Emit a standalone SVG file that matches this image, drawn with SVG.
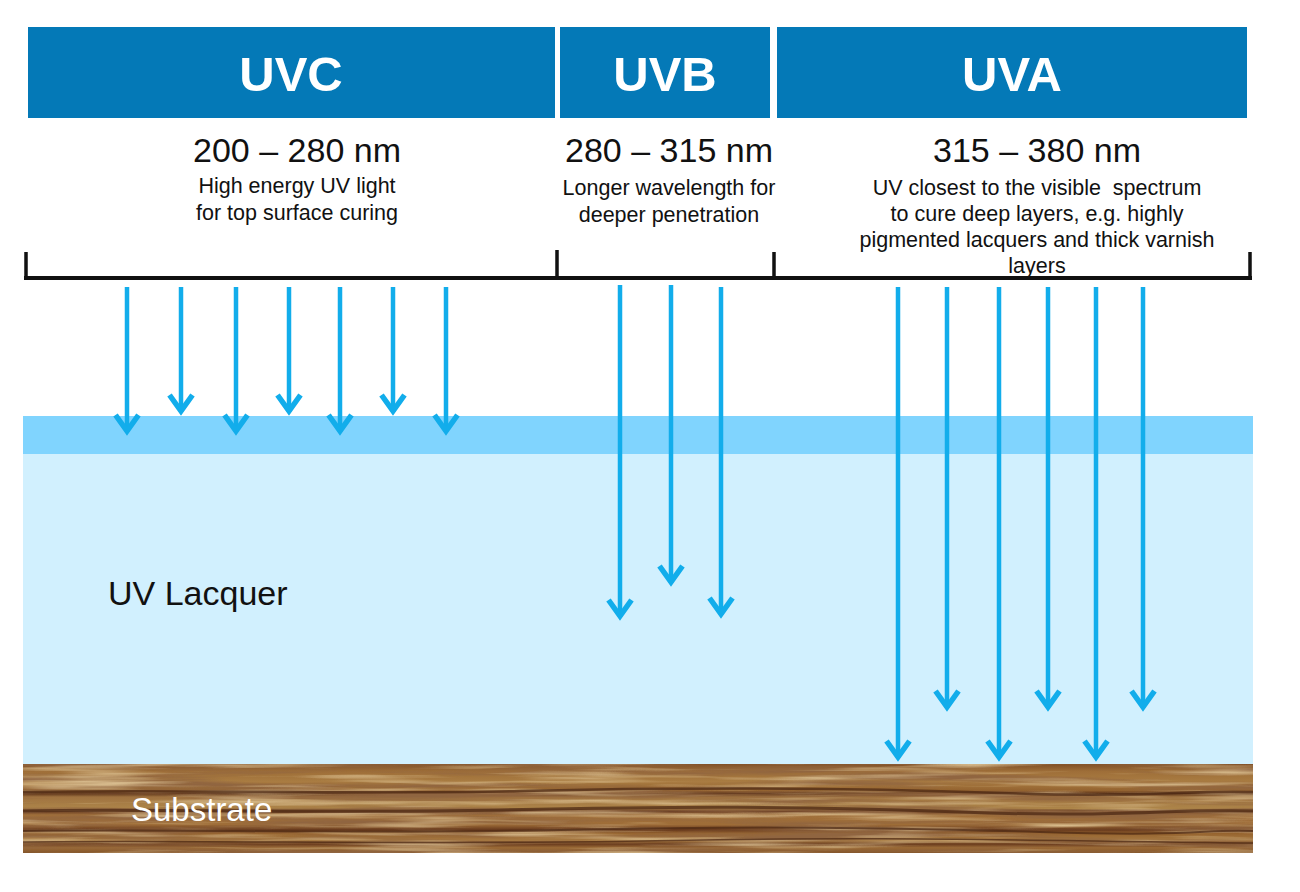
<svg xmlns="http://www.w3.org/2000/svg" width="1300" height="892" viewBox="0 0 1300 892">
  <style>
    .hdr { fill: #0479B7; }
    .hdrtxt { font-family: "Liberation Sans", Arial, sans-serif; font-weight: bold; font-size: 49px; fill: #ffffff; text-anchor: middle; }
    .range { font-family: "Liberation Sans", Arial, sans-serif; font-size: 34px; fill: #111111; text-anchor: middle; }
    .desc { font-family: "Liberation Sans", Arial, sans-serif; font-size: 21.5px; fill: #111111; text-anchor: middle; }
    .label { font-family: "Liberation Sans", Arial, sans-serif; font-size: 34px; fill: #111111; }
    .sublabel { font-family: "Liberation Sans", Arial, sans-serif; font-size: 33px; fill: #ffffff; }
    .bracket { stroke: #111111; fill: none; }
    .ray { stroke: #12ADEB; stroke-width: 4.5; fill: none; marker-end: url(#chev); }
    .vein { fill: none; stroke: #4E2A14; stroke-opacity: 0.75; }
  </style>
  <defs>
    <marker id="chev" markerUnits="userSpaceOnUse" viewBox="-22 -15 26 30" refX="0" refY="0" markerWidth="26" markerHeight="30" orient="auto" overflow="visible">
      <path d="M-17,-11.5 L-1,0 L-17,11.5" fill="none" stroke="#12ADEB" stroke-width="5.5" stroke-linejoin="miter"/>
    </marker>
    <linearGradient id="woodBands" x1="0" y1="0" x2="0" y2="1">
      <stop offset="0" stop-color="#7E4E26"/>
      <stop offset="0.08" stop-color="#9E6E38"/>
      <stop offset="0.2" stop-color="#A97C42"/>
      <stop offset="0.3" stop-color="#93622F"/>
      <stop offset="0.33" stop-color="#5A3118"/>
      <stop offset="0.37" stop-color="#9F7240"/>
      <stop offset="0.5" stop-color="#AD8549"/>
      <stop offset="0.53" stop-color="#5E321C"/>
      <stop offset="0.57" stop-color="#A06F3A"/>
      <stop offset="0.68" stop-color="#9E6D38"/>
      <stop offset="0.74" stop-color="#66381C"/>
      <stop offset="0.78" stop-color="#96642F"/>
      <stop offset="0.86" stop-color="#A67942"/>
      <stop offset="0.9" stop-color="#6A3C1E"/>
      <stop offset="0.94" stop-color="#9A6A36"/>
      <stop offset="1" stop-color="#84552B"/>
    </linearGradient>
    <filter id="grainDark" x="0" y="0" width="100%" height="100%">
      <feTurbulence type="fractalNoise" baseFrequency="0.004 0.12" numOctaves="4" seed="7"/>
      <feColorMatrix type="matrix" values="0 0 0 0 0.28  0 0 0 0 0.13  0 0 0 0 0.05  3 0 0 0 -1.2"/>
      <feComposite in2="SourceGraphic" operator="in"/>
    </filter>
    <filter id="grainLight" x="0" y="0" width="100%" height="100%">
      <feTurbulence type="fractalNoise" baseFrequency="0.006 0.16" numOctaves="3" seed="21"/>
      <feColorMatrix type="matrix" values="0 0 0 0 0.76  0 0 0 0 0.58  0 0 0 0 0.32  0 2.2 0 0 -1.05"/>
      <feComposite in2="SourceGraphic" operator="in"/>
    </filter>
  </defs>

  <rect width="1300" height="892" fill="#ffffff"/>

  <!-- Layers -->
  <g id="lacquer">
    <rect x="23" y="454" width="1230" height="310" fill="#D1F0FE"/>
    <text class="label" x="108" y="605">UV Lacquer</text>
  </g>
  <g id="top-surface">
    <rect x="23" y="416" width="1230" height="38" fill="#80D4FE"/>
  </g>
  <g id="substrate">
    <rect x="23" y="764" width="1230" height="89" fill="url(#woodBands)"/>
    <rect x="23" y="764" width="1230" height="89" fill="#000" filter="url(#grainDark)"/>
    <rect x="23" y="764" width="1230" height="89" fill="#000" filter="url(#grainLight)"/>
    <path class="vein" stroke-width="2.5" d="M23,792 C200,789 350,795 520,791 S850,788 1000,793 S1180,790 1253,792"/>
    <path class="vein" stroke-width="3" d="M23,811 C150,808 320,814 500,810 S800,806 960,812 S1160,809 1253,811"/>
    <path class="vein" stroke-width="2" d="M23,831 C180,829 360,834 560,830 S880,827 1040,832 S1200,829 1253,831"/>
    <path class="vein" stroke-width="1.5" d="M23,842 C220,840 420,845 640,841 S940,839 1253,843"/>
    <text class="sublabel" x="131" y="821">Substrate</text>
  </g>

  <!-- Headers -->
  <g id="uvc">
    <rect class="hdr" x="28" y="27" width="527" height="91"/>
    <text class="hdrtxt" x="291" y="91">UVC</text>
    <text class="range" x="297" y="162">200 – 280 nm</text>
    <text class="desc" x="297" y="193">High energy UV light</text>
    <text class="desc" x="297" y="220">for top surface curing</text>
  </g>
  <g id="uvb">
    <rect class="hdr" x="560" y="27" width="210" height="91"/>
    <text class="hdrtxt" x="665" y="91">UVB</text>
    <text class="range" x="669" y="162">280 – 315 nm</text>
    <text class="desc" x="669" y="195">Longer wavelength for</text>
    <text class="desc" x="669" y="222">deeper penetration</text>
  </g>
  <g id="uva">
    <rect class="hdr" x="777" y="27" width="470" height="91"/>
    <text class="hdrtxt" x="1012" y="91">UVA</text>
    <text class="range" x="1037" y="162">315 – 380 nm</text>
    <text class="desc" x="1037" y="195" xml:space="preserve">UV closest to the visible  spectrum</text>
    <text class="desc" x="1037" y="221">to cure deep layers, e.g. highly</text>
    <text class="desc" x="1037" y="247">pigmented lacquers and thick varnish</text>
    <text class="desc" x="1037" y="273">layers</text>
  </g>

  <!-- Bracket -->
  <g id="bracket">
    <path class="bracket" stroke-width="4" d="M24,278 H1252"/>
    <path class="bracket" stroke-width="3.5" d="M26,252 V280 M557,250 V278 M774,252 V278 M1250,252 V280"/>
  </g>

  <!-- Connectors (UV rays) -->
  <g id="connectors">
    <path class="ray" d="M127,287 V432"/>
    <path class="ray" d="M181,287 V412"/>
    <path class="ray" d="M236,287 V432"/>
    <path class="ray" d="M289,287 V412"/>
    <path class="ray" d="M340,287 V432"/>
    <path class="ray" d="M393,287 V412"/>
    <path class="ray" d="M446,287 V432"/>

    <path class="ray" d="M620,285 V617"/>
    <path class="ray" d="M671,285 V583"/>
    <path class="ray" d="M721,287 V615"/>

    <path class="ray" d="M898,287 V758"/>
    <path class="ray" d="M947,287 V708"/>
    <path class="ray" d="M999,287 V758"/>
    <path class="ray" d="M1048,287 V708"/>
    <path class="ray" d="M1096,287 V758"/>
    <path class="ray" d="M1143,287 V708"/>
  </g>
</svg>
